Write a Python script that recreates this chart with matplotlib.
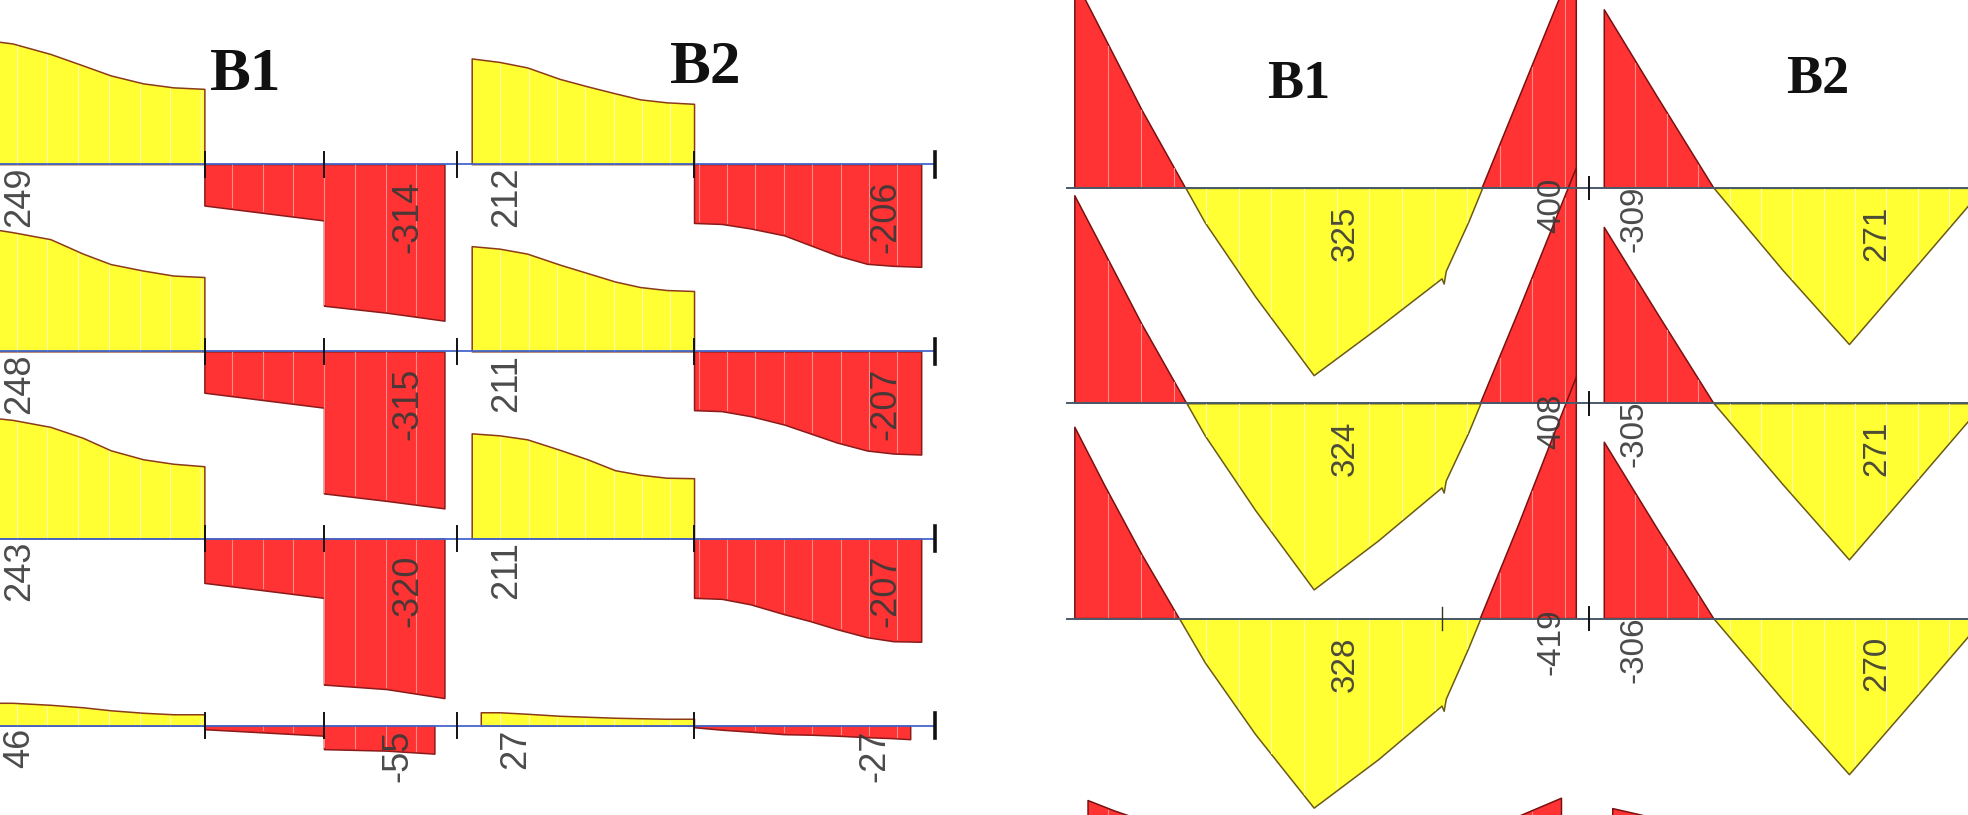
import numpy as np
import matplotlib.pyplot as plt
from matplotlib import font_manager

# ---- shear diagrams (kN), 4 load cases; stations = fraction of node span ----
v_b1_sta = [0.031, 0.071, 0.150, 0.218, 0.276, 0.344, 0.407, 0.472, 0.472, 0.722, 0.722, 0.853, 0.974]
v_b1_sta_r4 = [0.031, 0.071, 0.150, 0.218, 0.276, 0.344, 0.407, 0.472, 0.472, 0.722, 0.722, 0.853, 0.953]
v_b1 = [
    [247, 242, 221, 198, 178, 162, 154, 151, -83, -113, -284, -298, -314],
    [245, 239, 225, 196, 175, 162, 152, 149, -83, -113, -285, -300, -315],
    [242, 238, 224, 202, 177, 159, 150, 145, -89, -119, -293, -302, -320],
    [46, 46, 42, 37, 31, 26, 23, 23, -7, -20, -47, -50, -56],
]
v_b2_sta = [0.031, 0.089, 0.147, 0.215, 0.273, 0.331, 0.383, 0.438, 0.496,
            0.496, 0.554, 0.614, 0.685, 0.740, 0.795, 0.858, 0.913, 0.971]
v_b2_sta_r4 = [0.050, 0.089, 0.147, 0.215, 0.273, 0.331, 0.383, 0.438, 0.496,
               0.496, 0.554, 0.614, 0.685, 0.740, 0.795, 0.858, 0.913, 0.948]
v_b2 = [
    [212, 205, 194, 171, 156, 142, 130, 124, 121, -118, -120, -129, -143, -163, -183, -200, -204, -206],
    [211, 206, 196, 174, 157, 140, 129, 123, 121, -118, -120, -130, -147, -165, -183, -199, -205, -207],
    [211, 207, 199, 178, 159, 137, 128, 122, 121, -119, -121, -132, -152, -166, -182, -198, -206, -207],
    [27, 27, 24, 20, 18, 16, 15, 14, 14, -3, -8, -12, -17, -18, -20, -23, -25, -27],
]
v_b1_start = [249, 248, 243, 46]
v_b1_end = [-314, -315, -320, -55]
v_b2_start = [212, 211, 211, 27]
v_b2_end = [-206, -207, -207, -27]

# ---- moment diagrams (kN.m), sagging positive ----
m_b1_sta = [0.027, 0.083, 0.154, 0.273, 0.368, 0.479, 0.601, 0.721, 0.725, 0.729, 0.772, 0.867, 0.976]
m_b1_sta_r4 = [0.052, 0.102, 0.166, 0.278, 0.368, 0.479, 0.601, 0.721, 0.725, 0.729, 0.772, 0.853, 0.948]
m_b1 = [
    [-362, -262, -135, 60, 188, 325, 242, 157, 166, 144, 58, -155, -400],
    [-360, -262, -137, 56, 185, 323, 238, 146, 155, 134, 50, -160, -408],
    [-332, -232, -111, 76, 200, 328, 244, 151, 160, 139, 50, -163, -419],
    [-58, -40, -20, 8, 28, 50, 38, 24, 25, 22, 8, -25, -62],
]
m_b2_sta = [0.029, 0.128, 0.236, 0.366, 0.492, 0.615, 0.746, 0.817]
m_b2_sta_r4 = [0.045, 0.160, 0.236, 0.366, 0.492, 0.615, 0.746, 0.817]
m_b2 = [
    [-309, -160, 0, 142, 271, 140, 0, -80],
    [-305, -158, 0, 140, 271, 140, 0, -80],
    [-306, -158, 0, 140, 270, 140, 0, -80],
    [-44, -20, 0, 15, 30, 15, 0, -8],
]
m_b1_mid = [325, 324, 328]
m_b1_end = [400, 408, -419]
m_b2_start = [-309, -305, -306]
m_b2_mid = [271, 271, 270]

YELLOW = '#ffff33'
RED = '#ff3333'
TXT = '#383838'

# numbers in the reference look tall and narrow: use a narrow face if present
_names = {f.name for f in font_manager.fontManager.ttflist}
if 'Liberation Sans Narrow' in _names:
    NUM_FONT, NUM_K = 'Liberation Sans Narrow', 1.22
else:
    NUM_FONT, NUM_K = 'Liberation Sans', 1.04


def diagram(ax, x0, x1, yb, sta, val, scale, sign, epos, eneg, s0, step):
    xs = x0 + np.array(sta) * (x1 - x0)
    v = np.array(val, dtype=float)
    ys = yb - sign * v * scale
    ax.fill_between(xs, yb, ys, where=v >= 0, interpolate=True,
                    facecolor=YELLOW, edgecolor=epos, lw=1.1, zorder=2)
    ax.fill_between(xs, yb, ys, where=v <= 0, interpolate=True,
                    facecolor=RED, edgecolor=eneg, lw=1.1, zorder=2)
    # light station lines inside the fill
    for sx in np.arange(s0, xs[-1] - 2, step):
        if sx < xs[0] + 2:
            continue
        h = np.interp(sx, xs, v) * scale
        if abs(h) < 4:
            continue
        c = '#ffffa8' if h > 0 else '#ff8c8c'
        ax.plot([sx, sx], [yb, yb - sign * (h - np.sign(h) * 1.5)],
                color=c, lw=0.8, zorder=2.5)


def label(ax, x, ytop, val, size):
    ax.text(x, ytop, str(val), rotation=90, ha='center', va='top',
            fontsize=size * NUM_K, color=TXT, alpha=0.9, family=NUM_FONT, zorder=5)


fig = plt.figure(figsize=(19.68, 8.15), dpi=100)
ax = fig.add_axes([0, 0, 1, 1])
ax.set_xlim(0, 1568)
ax.set_ylim(649, 0)
ax.axis('off')

# ---------------- shear panel ----------------
vs = 0.397
v_span1 = (-17, 364)
v_span2 = (364, 745)
for r in range(4):
    yb = 130.7 + 149.07 * r
    s1 = v_b1_sta_r4 if r == 3 else v_b1_sta
    s2 = v_b2_sta_r4 if r == 3 else v_b2_sta
    diagram(ax, *v_span1, yb, s1, v_b1[r], vs, 1, '#8b3a1a', '#8b1a1a', 13.3, 24.5)
    diagram(ax, *v_span2, yb, s2, v_b2[r], vs, 1, '#8b3a1a', '#8b1a1a', 398.5, 22.6)
    ax.plot([0, 745], [yb, yb], color='#4466cc', lw=1.3, zorder=3)
    for tx in [163, 258, 364, 553]:
        ax.plot([tx, tx], [yb - 10, yb + 10], color='#111111', lw=1.4, zorder=4)
    ax.plot([745, 745], [yb - 10, yb + 10], color='#111111', lw=2.6, zorder=4)
    xa1 = v_span1[0] + s1[0] * (v_span1[1] - v_span1[0])
    xe1 = v_span1[0] + s1[-1] * (v_span1[1] - v_span1[0])
    xa2 = v_span2[0] + s2[0] * (v_span2[1] - v_span2[0])
    xe2 = v_span2[0] + s2[-1] * (v_span2[1] - v_span2[0])
    dy_end = 3 if r == 3 else 13
    label(ax, xa1 + 21, yb + 2, v_b1_start[r], 25)
    label(ax, xe1 - 29, yb + dy_end, v_b1_end[r], 25)
    label(ax, xa2 + 28, yb + 2, v_b2_start[r], 25)
    label(ax, xe2 - 28, yb + dy_end, v_b2_end[r], 25)

ax.text(196, 71.7, 'B1', fontsize=44, fontweight='bold', family='Liberation Serif',
        ha='center', va='baseline', color='#111111', zorder=5)
ax.text(562.6, 66.4, 'B2', fontsize=44, fontweight='bold', family='Liberation Serif',
        ha='center', va='baseline', color='#111111', zorder=5)

# ---------------- moment panel ----------------
ms = 0.459
m_span1 = (845, 1266)
m_span2 = (1266, 1687)
m_base = [149.6 + 171.5 * r for r in range(4)]
for r in range(4):
    yb = m_base[r]
    s1 = m_b1_sta_r4 if r == 3 else m_b1_sta
    s2 = m_b2_sta_r4 if r == 3 else m_b2_sta
    diagram(ax, *m_span1, yb, s1, m_b1[r], ms, -1, '#6b5a14', '#7a1010', 883, 26)
    diagram(ax, *m_span2, yb, s2, m_b2[r], ms, -1, '#6b5a14', '#7a1010', 1303, 25)

for r in range(3):
    yb = m_base[r]
    ax.plot([850, 1568], [yb, yb], color='#4a5a6a', lw=1.4, zorder=3)
    ax.plot([1266, 1266], [yb - 9, yb + 9], color='#111111', lw=1.4, zorder=4)
    if r == 2:
        ax.plot([1149, 1149], [yb - 9, yb + 9], color='#333322', lw=1.0, zorder=4)
    label(ax, 1072, yb + 14, m_b1_mid[r], 23)
    label(ax, 1236, yb - 8, m_b1_end[r], 23)
    label(ax, 1302, yb - 2, m_b2_start[r], 23)
    label(ax, 1495, yb + 14, m_b2_mid[r], 23)

ax.text(1034.6, 78.4, 'B1', fontsize=39, fontweight='bold', family='Liberation Serif',
        ha='center', va='baseline', color='#111111', zorder=5)
ax.text(1447.9, 74.4, 'B2', fontsize=39, fontweight='bold', family='Liberation Serif',
        ha='center', va='baseline', color='#111111', zorder=5)

fig.savefig('out.png', dpi=100)
